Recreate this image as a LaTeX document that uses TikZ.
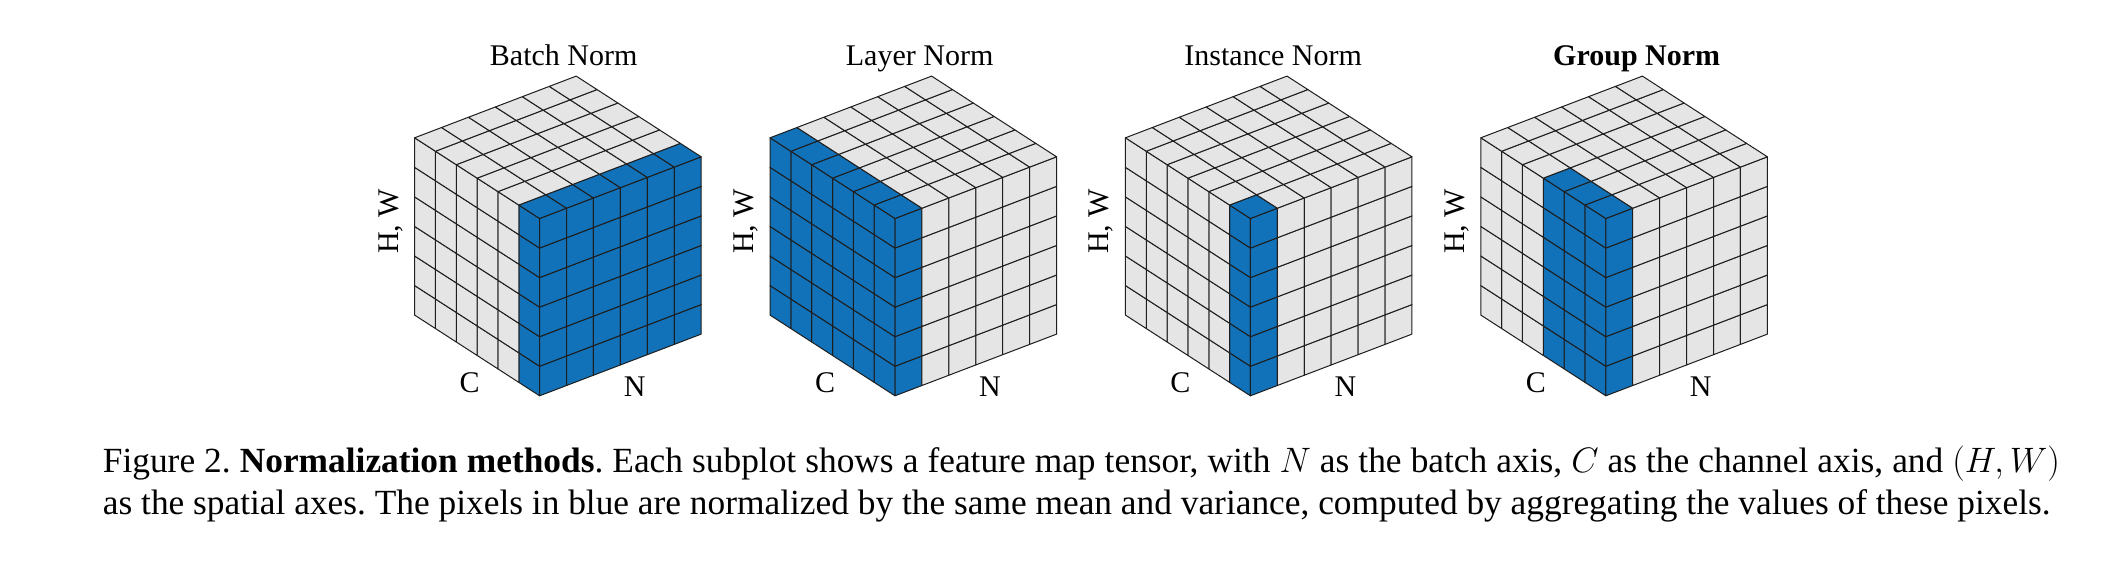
\RequirePackage{fix-cm}
\documentclass[tikz,border=0pt]{standalone}
\usepackage{fontspec}
\setmainfont{Liberation Serif}
\definecolor{nblue}{RGB}{17,114,185}
\definecolor{ngray}{RGB}{229,229,229}
\definecolor{nline}{RGB}{30,30,30}
\tikzset{
  cell/.style={draw=nline, line width=1pt, line join=round},
  cubetitle/.style={anchor=base, inner sep=0pt, font=\fontsize{30}{36}\selectfont},
  axislab/.style={inner sep=0pt, font=\fontsize{30}{36}\selectfont},
  captext/.style={anchor=base west, inner sep=0pt, font=\fontsize{35.35}{42.3}\selectfont\frenchspacing},
}
% #1 x of near-bottom vertex, #2 blue C count, #3 blue N count, #4 name prefix
\newcommand{\normcube}[4]{%
  \begin{scope}[shift={(#1pt,186.2pt)}, x={(26.93pt,10.28pt)}, y={(0pt,29.55pt)}, z={(-20.83pt,13.45pt)}]
    \foreach \i in {0,...,5}{\foreach \j in {0,...,5}{
      \ifnum\i<#2\relax\def\fc{nblue}\else\def\fc{ngray}\fi
      \filldraw[cell, fill=\fc] (0,\j,\i) -- (0,\j+1,\i) -- (0,\j+1,\i+1) -- (0,\j,\i+1) -- cycle;
      \ifnum\i<#3\relax\def\fc{nblue}\else\def\fc{ngray}\fi
      \filldraw[cell, fill=\fc] (\i,\j,0) -- (\i+1,\j,0) -- (\i+1,\j+1,0) -- (\i,\j+1,0) -- cycle;
    }}
    \foreach \k in {0,...,5}{\foreach \i in {0,...,5}{
      \def\fc{ngray}
      \ifnum\k<#3\relax\ifnum\i<#2\relax\def\fc{nblue}\fi\fi
      \filldraw[cell, fill=\fc] (\k,6,\i) -- (\k+1,6,\i) -- (\k+1,6,\i+1) -- (\k,6,\i+1) -- cycle;
    }}
  \end{scope}
  \node[axislab] (#4C) at (#1-70, 199.7) {C};
  \node[axislab] (#4N) at (#1+95, 195.7) {N};
  \node[axislab, rotate=90] (#4HW) at (#1-149, 360.7) {H, W};
}
\begin{document}
\begin{tikzpicture}[x=1pt, y=1pt]
  \useasboundingbox (0,0) rectangle (2126,582);
  \normcube{539.6}{1}{6}{batch}
  \normcube{895.0}{6}{1}{layer}
  \normcube{1250.4}{1}{1}{inst}
  \normcube{1605.8}{3}{1}{group}
  \node[cubetitle] (tbatch) at (563.7,516) {Batch Norm};
  \node[cubetitle] (tlayer) at (919.6,516) {Layer Norm};
  \node[cubetitle] (tinst) at (1273.2,516) {Instance Norm};
  \node[cubetitle] (tgroup) at (1636.7,516) {\bfseries Group Norm};
  \node[captext] (cap1) at (102.7,110) {\makebox[1957pt][s]{Figure 2. \textbf{Normalization methods}. Each subplot shows a feature map tensor, with $N$ as the batch axis, $C$ as the channel axis, and $(H,W)$}};
  \node[captext] (cap2) at (102.7,68) {as the spatial axes. The pixels in blue are normalized by the same mean and variance, computed by aggregating the values of these pixels.};
\end{tikzpicture}
\end{document}
